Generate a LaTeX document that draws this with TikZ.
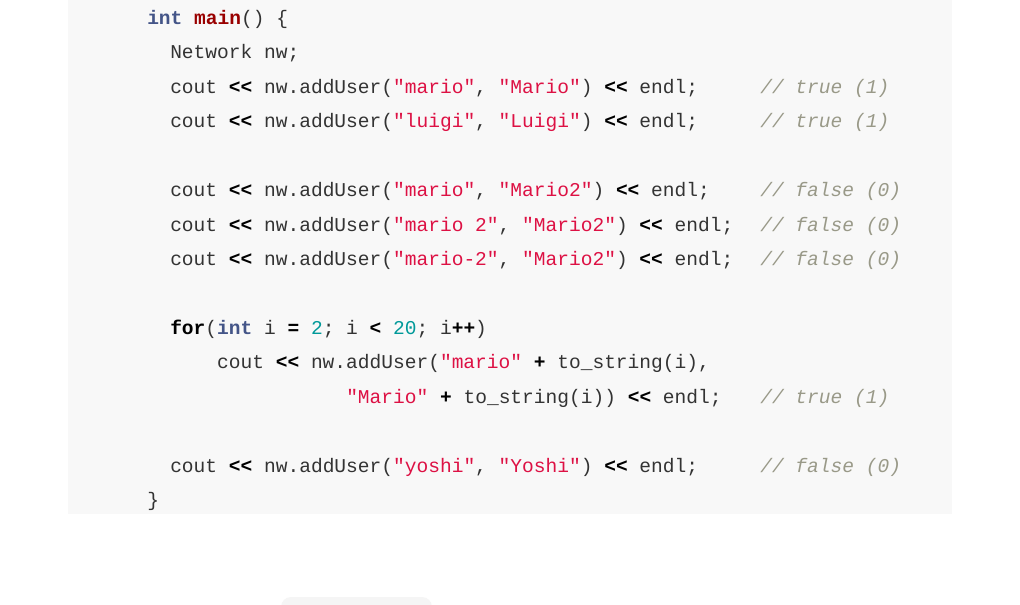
\documentclass[tikz,border=0pt]{standalone}
\usepackage{fontspec}
\newfontfamily\codefont{Liberation Mono}
\definecolor{bgc}{HTML}{F8F8F8}
\definecolor{txtc}{HTML}{333333}
\definecolor{typec}{HTML}{445588}
\definecolor{fnc}{HTML}{990000}
\definecolor{strc}{HTML}{DD1144}
\definecolor{numc}{HTML}{009999}
\definecolor{cmtc}{HTML}{999988}
\definecolor{kwc}{HTML}{000000}
\definecolor{pillc}{HTML}{F5F5F5}
\newcommand\cType[1]{\textbf{\color{typec}#1}}
\newcommand\cFn[1]{\textbf{\color{fnc}#1}}
\newcommand\cStr[1]{{\color{strc}#1}}
\newcommand\cNum[1]{{\color{numc}#1}}
\newcommand\cKw[1]{\textbf{\color{kwc}#1}}
\newcommand\cOp[1]{\textbf{\color{kwc}#1}}
\begin{document}
\begin{tikzpicture}[x=0.75pt,y=-0.75pt,
  codeline/.style={anchor=base west, inner sep=0pt, text=txtc,
    font=\codefont\fontsize{14.66}{17}\selectfont\frenchspacing},
  cmt/.style={codeline, text=cmtc, font=\codefont\itshape\fontsize{14.66}{17}\selectfont\frenchspacing}]
\useasboundingbox (0,0) rectangle (1020,604);
\fill[white] (0,0) rectangle (1020,604);
\fill[bgc] (68,0) rectangle (952,514);
\begin{scope}
  \clip (0,0) rectangle (1020,604);
  \fill[pillc, rounded corners=7.5pt] (281,597) rectangle (432,640);
\end{scope}
% baselines: 24.5 + k*34.43
\node[codeline] (l0) at (147,24.5) {\cType{int} \cFn{main}() \{};
\node[codeline] (l1) at (170,58.9) {Network nw;};
\node[codeline] (l2) at (170,93.4) {cout \cOp{<<} nw.addUser(\cStr{"mario"}, \cStr{"Mario"}) \cOp{<<} endl;};
\node[cmt] (c2) at (760,93.4) {// true (1)};
\node[codeline] (l3) at (170,127.8) {cout \cOp{<<} nw.addUser(\cStr{"luigi"}, \cStr{"Luigi"}) \cOp{<<} endl;};
\node[cmt] (c3) at (760,127.8) {// true (1)};
\node[codeline] (l5) at (170,196.7) {cout \cOp{<<} nw.addUser(\cStr{"mario"}, \cStr{"Mario2"}) \cOp{<<} endl;};
\node[cmt] (c5) at (760,196.7) {// false (0)};
\node[codeline] (l6) at (170,231.1) {cout \cOp{<<} nw.addUser(\cStr{"mario 2"}, \cStr{"Mario2"}) \cOp{<<} endl;};
\node[cmt] (c6) at (760,231.1) {// false (0)};
\node[codeline] (l7) at (170,265.5) {cout \cOp{<<} nw.addUser(\cStr{"mario-2"}, \cStr{"Mario2"}) \cOp{<<} endl;};
\node[cmt] (c7) at (760,265.5) {// false (0)};
\node[codeline] (l9) at (170,334.4) {\cKw{for}(\cType{int} i \cOp{=} \cNum{2}; i \cOp{<} \cNum{20}; i\cOp{++})};
\node[codeline] (l10) at (216.9,368.8) {cout \cOp{<<} nw.addUser(\cStr{"mario"} \cOp{+} to\_string(i),};
\node[codeline] (l11) at (346,403.2) {\cStr{"Mario"} \cOp{+} to\_string(i)) \cOp{<<} endl;};
\node[cmt] (c11) at (760,403.2) {// true (1)};
\node[codeline] (l13) at (170,472.1) {cout \cOp{<<} nw.addUser(\cStr{"yoshi"}, \cStr{"Yoshi"}) \cOp{<<} endl;};
\node[cmt] (c13) at (760,472.1) {// false (0)};
\node[codeline] (l14) at (147,506.5) {\}};
\end{tikzpicture}
\end{document}
